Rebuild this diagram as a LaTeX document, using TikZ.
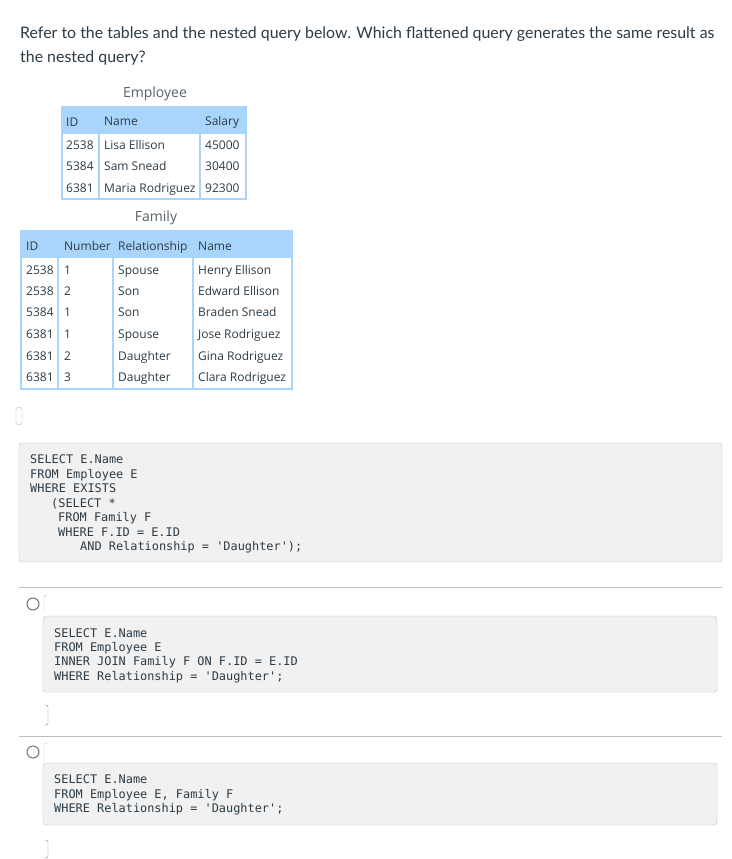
\documentclass[tikz,border=0pt]{standalone}
\usepackage{fontspec}
\setmainfont{Lato}
\newfontfamily\tabfont{Open Sans}
\setmonofont{DejaVu Sans Mono}
\definecolor{hdrblue}{HTML}{A9D4FB}
\definecolor{cellline}{HTML}{A9D4FB}
\definecolor{codebg}{HTML}{F1F1F1}
\definecolor{codeline}{HTML}{BFBFBF}
\definecolor{txt}{HTML}{2D3B45}
\tikzset{
  title/.style={anchor=base west, inner sep=0pt, font=\fontsize{15.9}{18}\selectfont, text=txt},
  cell/.style={anchor=base west, inner sep=0pt, font=\tabfont\fontsize{12}{14}\selectfont, text=txt},
  caption/.style={anchor=base, inner sep=0pt, font=\tabfont\fontsize{14}{16}\selectfont, text=txt!80},
  code/.style={anchor=base west, inner sep=0pt, font=\ttfamily\fontsize{11.9}{14}\selectfont, text=txt},
  codebox/.style={fill=codebg, draw=codeline, rounded corners=3pt},
  radio/.style={circle, draw=txt!70, line width=1pt, minimum size=12pt, inner sep=0pt},
}
\begin{document}
\begin{tikzpicture}[x=1pt,y=-1pt]
\useasboundingbox[fill=white] (0,0) rectangle (731,859);
% question text
\node[title] (q1) at (20,38) {Refer to the tables and the nested query below. Which flattened query generates the same result as};
\node[title] (q2) at (20,63) {the nested query?};
% Employee table
\node[caption] (emp) at (155,97) {Employee};
\fill[hdrblue] (62,107) rectangle (246,134);
\draw[cellline, line width=1.5pt] (62,107) rectangle (246,199);
\foreach \x in {99,200} \draw[cellline, line width=1.5pt] (\x,134) -- (\x,199);
\node[cell] at (66,126) {ID};
\node[cell] at (104,125) {Name};
\node[cell] at (205,125) {Salary};
\foreach \y/\i/\n/\s in {149/2538/Lisa Ellison/45000,170/5384/Sam Snead/30400,192/6381/Maria Rodriguez/92300}{
  \node[cell] at (66,\y) {\i};
  \node[cell] at (104,\y) {\n};
  \node[cell] at (205,\y) {\s};
}
% Family table
\node[caption] (fam) at (156,221) {Family};
\fill[hdrblue] (21,231) rectangle (292,258);
\draw[cellline, line width=1.5pt] (21,231) rectangle (292,389);
\foreach \x in {58,113,193} \draw[cellline, line width=1.5pt] (\x,258) -- (\x,389);
\node[cell] at (26,250) {ID};
\node[cell] at (64,250) {Number};
\node[cell] at (118,250) {Relationship};
\node[cell] at (198,250) {Name};
\foreach \y/\i/\k/\r/\n in {274/2538/1/Spouse/Henry Ellison,295/2538/2/Son/Edward Ellison,316/5384/1/Son/Braden Snead,338/6381/1/Spouse/Jose Rodriguez,360/6381/2/Daughter/Gina Rodriguez,381/6381/3/Daughter/Clara Rodriguez}{
  \node[cell] at (26,\y) {\i};
  \node[cell] at (64,\y) {\k};
  \node[cell] at (118,\y) {\r};
  \node[cell] at (198,\y) {\n};
}
\draw[codeline, rounded corners=3pt] (16,407) rectangle (22,425);
% nested query
\draw[codebox] (19,443) rectangle (722,562);
\node[code] at (30,463) {SELECT E.Name};
\node[code] at (30,478) {FROM Employee E};
\node[code] at (30,492) {WHERE EXISTS};
\node[code] at (51,507) {(SELECT *};
\node[code] at (58,521) {FROM Family F};
\node[code] at (58,536) {WHERE F.ID = E.ID};
\node[code] at (80,550) {AND Relationship = 'Daughter');};
\draw[codeline] (19,587) -- (722,587);
% option 1
\node[radio] (r1) at (33,604) {};
\draw[codeline, rounded corners=2pt] (48,595) -- (44,595) -- (44,613);
\draw[codebox] (43,616) rectangle (717,692);
\node[code] at (54,637) {SELECT E.Name};
\node[code] at (54,651) {FROM Employee E};
\node[code] at (54,665) {INNER JOIN Family F ON F.ID = E.ID};
\node[code] at (54,680) {WHERE Relationship = 'Daughter';};
\draw[txt!60, rounded corners=2pt] (44,705) -- (48,705) -- (48,725) -- (44,725);
\draw[codeline] (19,736) -- (722,736);
% option 2
\node[radio] (r2) at (33,752) {};
\draw[codeline, rounded corners=2pt] (48,743) -- (44,743) -- (44,761);
\draw[codebox] (43,763) rectangle (717,825);
\node[code] at (54,783) {SELECT E.Name};
\node[code] at (54,798) {FROM Employee E, Family F};
\node[code] at (54,812) {WHERE Relationship = 'Daughter';};
\draw[txt!60, rounded corners=2pt] (44,840) -- (48,840) -- (48,858) -- (44,858);
\end{tikzpicture}
\end{document}
